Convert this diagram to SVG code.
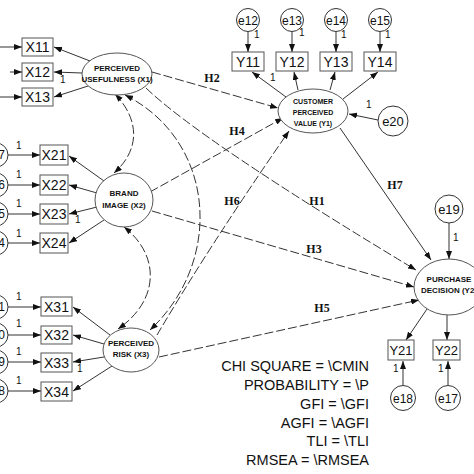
<svg xmlns="http://www.w3.org/2000/svg" width="474" height="474" viewBox="0 0 474 474">
<defs>
<marker id="ah" viewBox="0 0 8 6" refX="8" refY="3" markerWidth="8" markerHeight="6" markerUnits="userSpaceOnUse" orient="auto-start-reverse">
<path d="M0,0 L8,3 L0,6 z" fill="#111"/>
</marker>
<style>
.box{fill:#fff;stroke:#555;stroke-width:1}
.lat{fill:#fff;stroke:#555;stroke-width:1}
.err{fill:#fff;stroke:#333;stroke-width:1}
.ln{stroke:#333;stroke-width:1;fill:none;marker-end:url(#ah)}
.dash{stroke-dasharray:9 3}
.cov{marker-start:url(#ah)}
text{font-family:"Liberation Sans",Arial,sans-serif;fill:#111}
.lbl{font-size:14px;text-anchor:middle}
.el{font-size:12px;text-anchor:middle}
.lt{font-size:8px;font-weight:bold;text-anchor:middle}
.h{font-family:"Liberation Serif","Times New Roman",serif;font-size:12px;font-weight:bold;text-anchor:middle}
.one{font-size:10px}
.fit{font-size:14.5px;text-anchor:end}
</style>
</defs>
<rect width="474" height="474" fill="#fff"/>

<g id="connectors">
<path class="ln" d="M0,47 L22,47"/>
<path class="ln" d="M10,72 L22,72"/>
<path class="ln" d="M0,97 L22,97"/>
<path class="ln" d="M90,61 L54,47"/>
<path class="ln" d="M82,73 L54,72"/>
<path class="ln" d="M88,86 L54,97"/>
<path class="ln" d="M8,155 L40,155"/>
<path class="ln" d="M8,185 L40,185"/>
<path class="ln" d="M8,214 L40,214"/>
<path class="ln" d="M8,243 L40,243"/>
<path class="ln" d="M104,181 L69,156"/>
<path class="ln" d="M97,193 L69,185"/>
<path class="ln" d="M97,207 L69,214"/>
<path class="ln" d="M104,220 L69,243"/>
<path class="ln" d="M8,307 L41,307"/>
<path class="ln" d="M8,335 L41,335"/>
<path class="ln" d="M8,362 L41,362"/>
<path class="ln" d="M8,391 L41,391"/>
<path class="ln" d="M110,335 L73,307"/>
<path class="ln" d="M104,344 L73,335"/>
<path class="ln" d="M104,357 L73,362"/>
<path class="ln" d="M112,366 L73,391"/>
<path class="ln" d="M248,31.5 L248,52"/>
<path class="ln" d="M292,31.5 L292,52"/>
<path class="ln" d="M336,31.5 L336,52"/>
<path class="ln" d="M380,31.5 L380,52"/>
<path class="ln" d="M286,97 L252,72"/>
<path class="ln" d="M298,90 L294,72"/>
<path class="ln" d="M330,90 L335,72"/>
<path class="ln" d="M343,99 L378,72"/>
<path class="ln" d="M378,120 L349,114"/>
<path class="ln" d="M449,223 L449,259"/>
<path class="ln" d="M427,309 L406,340"/>
<path class="ln" d="M447,315 L447,340"/>
<path class="ln" d="M403,385 L403,361"/>
<path class="ln" d="M448,385 L448,361"/>
<path class="ln dash cov" d="M115,94 C140,120 140,150 114,173"/>
<path class="ln dash cov" d="M124,227 C160,255 160,300 118,329"/>
<path class="ln dash cov" d="M125,95 C215,140 225,260 150,330"/>
<path class="ln dash" d="M152,72 L278,108"/>
<path class="ln dash" d="M146,88 Q200,140 416,270"/>
<path class="ln dash" d="M150,192 L283,118"/>
<path class="ln dash" d="M152,211 L414,287"/>
<path class="ln dash" d="M157,335 Q210,245 289,131"/>
<path class="ln dash" d="M159,357 L419,300"/>
<path class="ln" d="M340,128 L431,260"/>
</g>

<g id="hlabels">
<text class="h" x="212" y="82">H2</text>
<text class="h" x="237" y="135">H4</text>
<text class="h" x="232" y="205">H6</text>
<text class="h" x="317" y="205">H1</text>
<text class="h" x="314" y="253">H3</text>
<text class="h" x="322" y="312">H5</text>
<text class="h" x="395" y="189">H7</text>
</g>

<g id="PU">
<ellipse class="lat" cx="117" cy="74" rx="35" ry="21"/>
<text class="lt" x="117" y="71">PERCEIVED</text>
<text class="lt" x="117" y="82">USEFULNESS (X1)</text>
</g>
<g id="BI">
<ellipse class="lat" cx="124" cy="200" rx="29" ry="27"/>
<text class="lt" x="124" y="196">BRAND</text>
<text class="lt" x="124" y="208">IMAGE (X2)</text>
</g>
<g id="PR">
<ellipse class="lat" cx="131" cy="350" rx="28" ry="22"/>
<text class="lt" x="131" y="346">PERCEIVED</text>
<text class="lt" x="131" y="357">RISK (X3)</text>
</g>
<g id="CPV">
<ellipse class="lat" cx="313" cy="111" rx="35" ry="22"/>
<text class="lt" x="313" y="104" style="font-size:7px">CUSTOMER</text>
<text class="lt" x="313" y="115" style="font-size:7px">PERCEIVED</text>
<text class="lt" x="313" y="126" style="font-size:7px">VALUE (Y1)</text>
</g>
<g id="PD">
<ellipse class="lat" cx="449" cy="287" rx="35" ry="28"/>
<text class="lt" x="449" y="282">PURCHASE</text>
<text class="lt" x="449" y="293">DECISION (Y2)</text>
</g>

<g id="X11"><rect class="box" x="22" y="38" width="31" height="18"/><text class="lbl" x="37.5" y="52">X11</text></g>
<g id="X12"><rect class="box" x="22" y="63" width="31" height="18"/><text class="lbl" x="37.5" y="77">X12</text></g>
<g id="X13"><rect class="box" x="22" y="88" width="31" height="18"/><text class="lbl" x="37.5" y="102">X13</text></g>

<g id="X21"><rect class="box" x="40" y="145" width="28" height="20"/><text class="lbl" x="54" y="160">X21</text></g>
<g id="X22"><rect class="box" x="40" y="175" width="28" height="20"/><text class="lbl" x="54" y="190">X22</text></g>
<g id="X23"><rect class="box" x="40" y="204" width="28" height="20"/><text class="lbl" x="54" y="219">X23</text></g>
<g id="X24"><rect class="box" x="40" y="233" width="28" height="20"/><text class="lbl" x="54" y="248">X24</text></g>

<g id="X31"><rect class="box" x="41" y="297" width="31" height="19"/><text class="lbl" x="56.5" y="312">X31</text></g>
<g id="X32"><rect class="box" x="41" y="326" width="31" height="18"/><text class="lbl" x="56.5" y="340">X32</text></g>
<g id="X33"><rect class="box" x="41" y="353" width="31" height="19"/><text class="lbl" x="56.5" y="368">X33</text></g>
<g id="X34"><rect class="box" x="41" y="382" width="31" height="19"/><text class="lbl" x="56.5" y="397">X34</text></g>

<g id="e7"><circle class="err" cx="-4" cy="155" r="12"/><text class="el" x="5" y="159" style="text-anchor:end">e7</text></g>
<g id="e6"><circle class="err" cx="-4" cy="185" r="12"/><text class="el" x="5" y="189" style="text-anchor:end">e6</text></g>
<g id="e5"><circle class="err" cx="-4" cy="214" r="12"/><text class="el" x="5" y="218" style="text-anchor:end">e5</text></g>
<g id="e4"><circle class="err" cx="-4" cy="243" r="12"/><text class="el" x="5" y="247" style="text-anchor:end">e4</text></g>
<g id="e11"><circle class="err" cx="-4" cy="307" r="12"/><text class="el" x="5" y="311" style="text-anchor:end">e11</text></g>
<g id="e10"><circle class="err" cx="-4" cy="335" r="12"/><text class="el" x="5" y="339" style="text-anchor:end">e10</text></g>
<g id="e9"><circle class="err" cx="-4" cy="362" r="12"/><text class="el" x="5" y="366" style="text-anchor:end">e9</text></g>
<g id="e8"><circle class="err" cx="-4" cy="391" r="12"/><text class="el" x="5" y="395" style="text-anchor:end">e8</text></g>

<g id="Y11"><rect class="box" x="232" y="52" width="32" height="19"/><text class="lbl" x="248" y="67">Y11</text></g>
<g id="Y12"><rect class="box" x="276" y="52" width="32" height="19"/><text class="lbl" x="292" y="67">Y12</text></g>
<g id="Y13"><rect class="box" x="320" y="52" width="32" height="19"/><text class="lbl" x="336" y="67">Y13</text></g>
<g id="Y14"><rect class="box" x="364" y="52" width="32" height="19"/><text class="lbl" x="380" y="67">Y14</text></g>

<g id="e12"><circle class="err" cx="248" cy="20" r="11.5"/><text class="el" x="248" y="24.5">e12</text></g>
<g id="e13"><circle class="err" cx="292" cy="20" r="11.5"/><text class="el" x="292" y="24.5">e13</text></g>
<g id="e14"><circle class="err" cx="336" cy="20" r="11.5"/><text class="el" x="336" y="24.5">e14</text></g>
<g id="e15"><circle class="err" cx="380" cy="20" r="11.5"/><text class="el" x="380" y="24.5">e15</text></g>
<g id="e20"><circle class="err" cx="393" cy="121" r="15"/><text class="el" x="393" y="126" style="font-size:13px">e20</text></g>
<g id="e19"><circle class="err" cx="449" cy="209" r="14"/><text class="el" x="449" y="213.5" style="font-size:13px">e19</text></g>

<g id="Y21"><rect class="box" x="388" y="340" width="26" height="20"/><text class="lbl" x="401" y="355" style="font-size:13px">Y21</text></g>
<g id="Y22"><rect class="box" x="433" y="340" width="27" height="20"/><text class="lbl" x="446.5" y="355" style="font-size:13px">Y22</text></g>
<g id="e18"><circle class="err" cx="403" cy="398" r="12.5"/><text class="el" x="403" y="402.5">e18</text></g>
<g id="e17"><circle class="err" cx="448" cy="398" r="12.5"/><text class="el" x="448" y="402.5">e17</text></g>

<g id="ones">
<text class="one" x="60" y="83">1</text>
<text class="one" x="254" y="38">1</text>
<text class="one" x="299" y="36">1</text>
<text class="one" x="341" y="38">1</text>
<text class="one" x="385" y="38">1</text>
<text class="one" x="270" y="81">1</text>
<text class="one" x="366" y="108">1</text>
<text class="one" x="16" y="149">1</text>
<text class="one" x="16" y="178">1</text>
<text class="one" x="16" y="207">1</text>
<text class="one" x="16" y="237">1</text>
<text class="one" x="75" y="223">1</text>
<text class="one" x="16" y="300">1</text>
<text class="one" x="16" y="327">1</text>
<text class="one" x="16" y="355">1</text>
<text class="one" x="16" y="384">1</text>
<text class="one" x="77" y="372">1</text>
<text class="one" x="453" y="241">1</text>
<text class="one" x="393" y="372">1</text>
<text class="one" x="438" y="372">1</text>
</g>

<g id="fit">
<text class="fit" x="369" y="371">CHI SQUARE = \CMIN</text>
<text class="fit" x="369" y="390">PROBABILITY = \P</text>
<text class="fit" x="369" y="409">GFI = \GFI</text>
<text class="fit" x="369" y="428">AGFI = \AGFI</text>
<text class="fit" x="369" y="446">TLI = \TLI</text>
<text class="fit" x="369" y="465">RMSEA = \RMSEA</text>
</g>
</svg>
